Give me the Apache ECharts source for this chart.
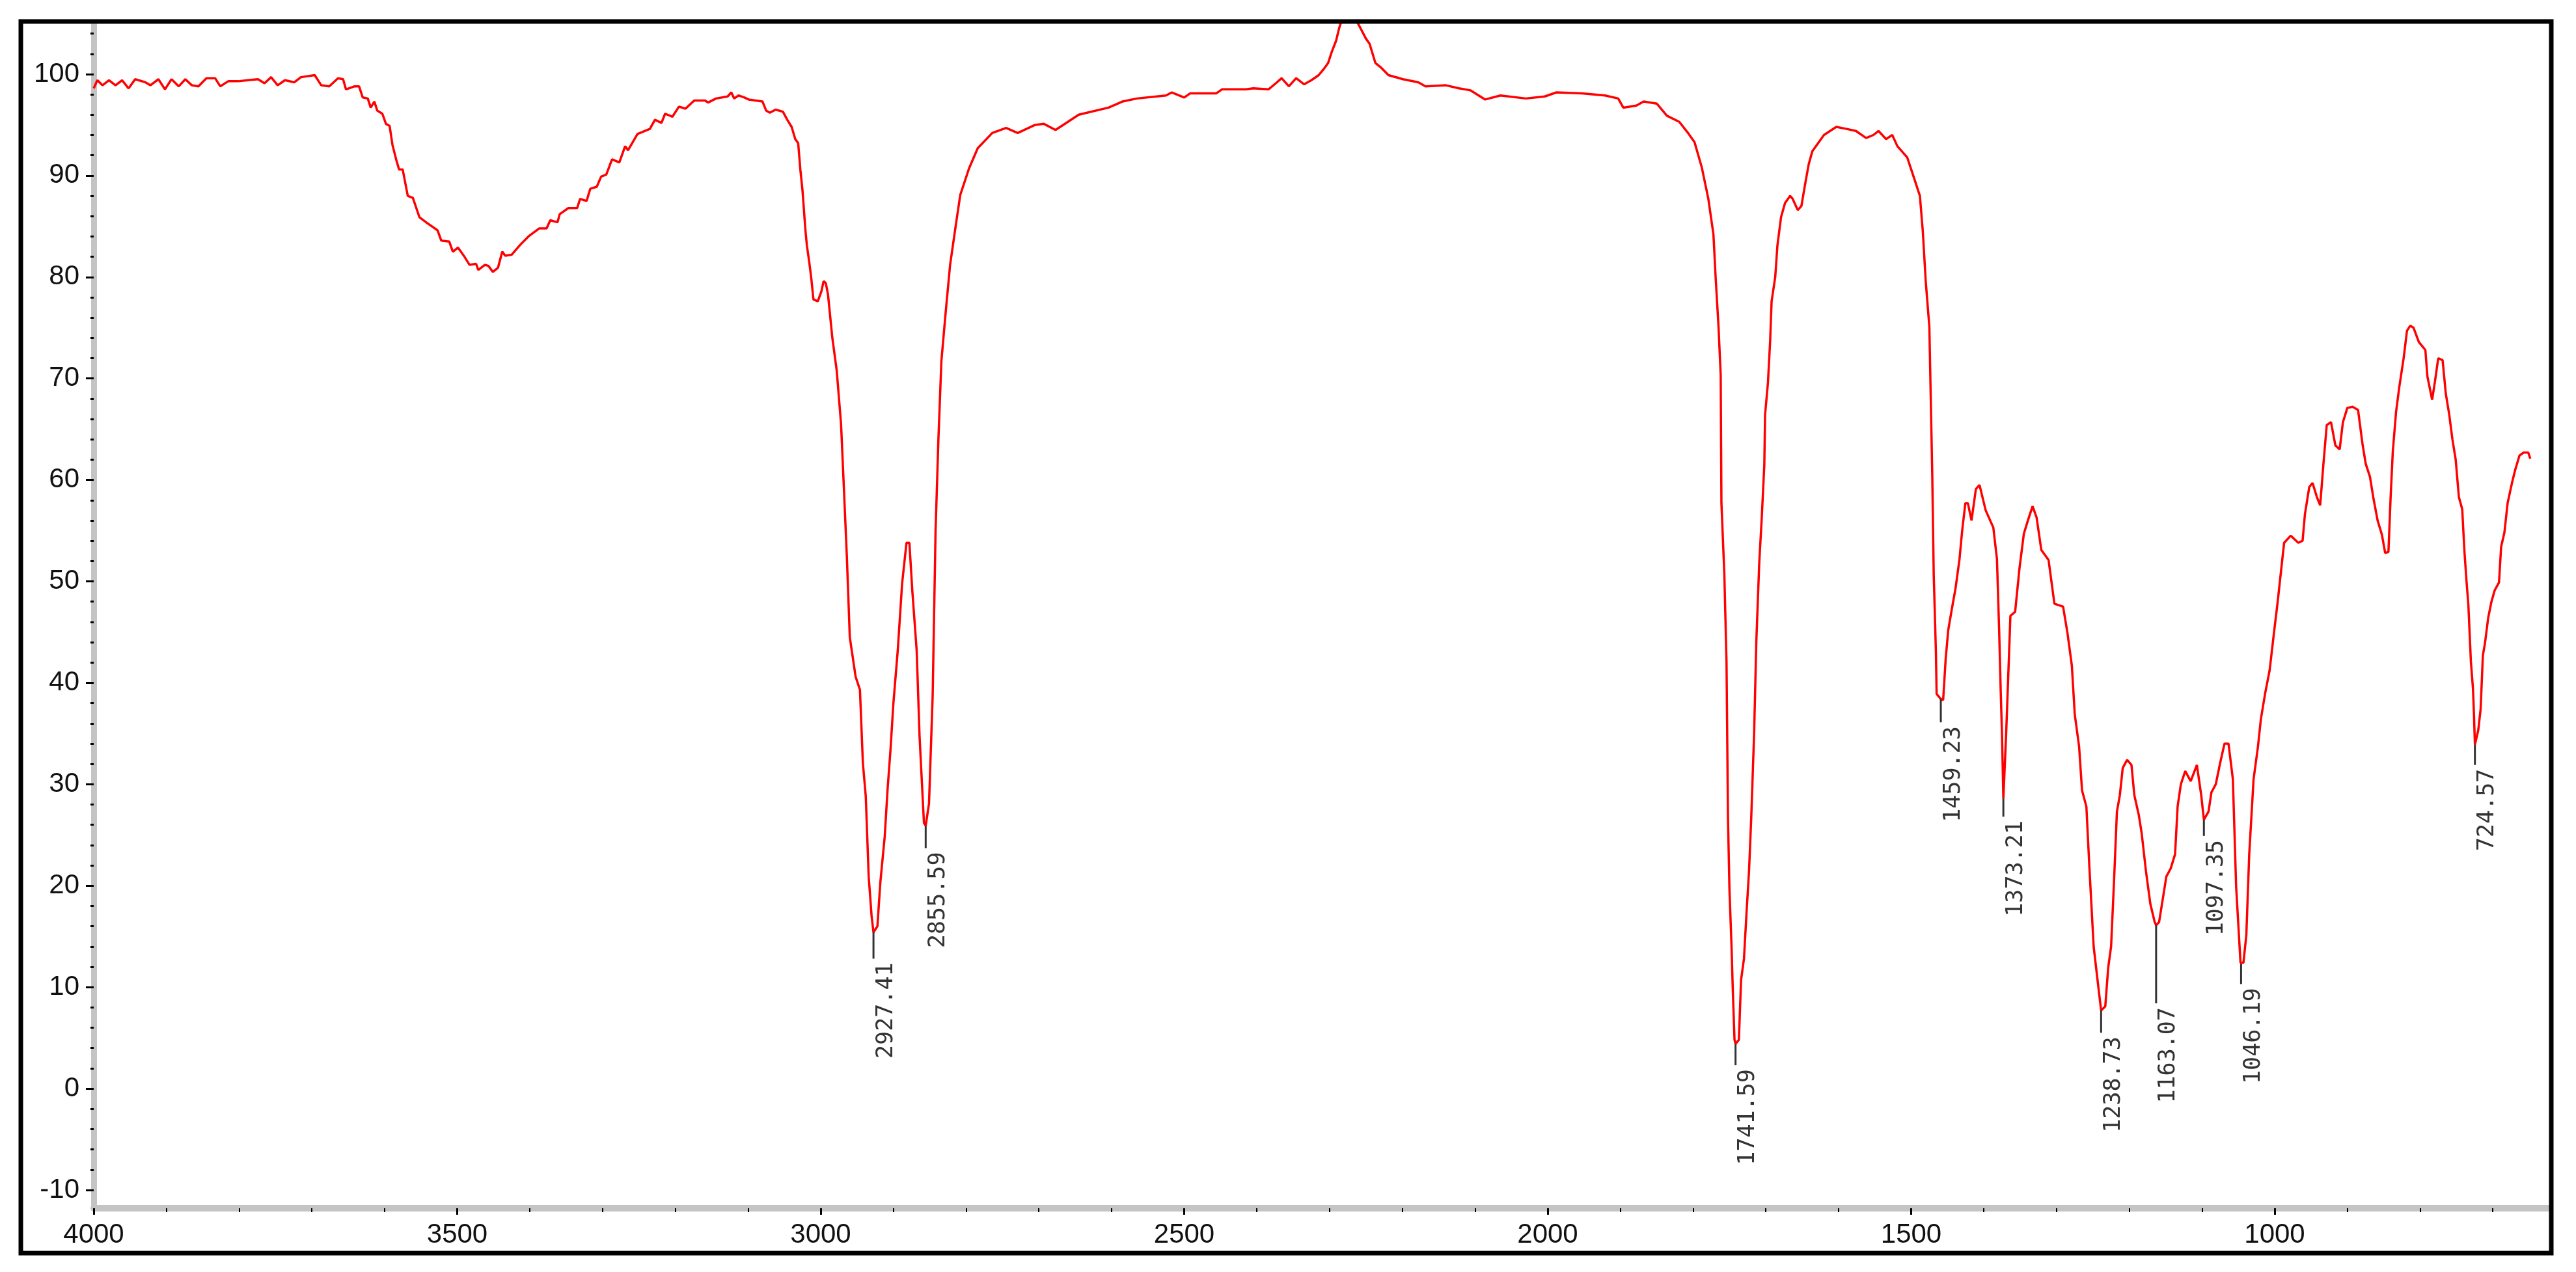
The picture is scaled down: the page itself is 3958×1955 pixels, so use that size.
<!DOCTYPE html>
<html>
<head>
<meta charset="utf-8">
<script src="https://cdn.jsdelivr.net/npm/echarts@6.0.0/dist/echarts.min.js"></script>
<style>
html,body{margin:0;padding:0;background:#fff;}
#chart{width:3958px;height:1955px;}
</style>
</head>
<body>
<div id="chart"></div>
<script>
// IR spectrum: wavenumber (cm-1) and transmittance (%)
const wavenumber = [
4000,3995,3988,3979,3970,3961,3952,3943,3929,3922,3911,3902,3893,3883,3874,3865,3856,3845,3833,3826,
3815,3801,3788,3774,3765,3756,3747,3737,3724,3715,3696,3687,3676,3664,3657,3653,3641,3635,3630,3623,
3619,3614,3610,3603,3598,3593,3589,3584,3580,3575,3568,3561,3552,3541,3527,3522,3511,3506,3499,3490,
3483,3474,3471,3462,
3457,3451,3444,3438,3434,3425,3413,3402,3387,3377,3372,3362,3359,3347,3335,3331,3322,3317,3308,3302,
3295,3287,3277,3269,3265,3252,3235,3228,3219,3214,3204,3195,3186,3174,3159,3155,3144,3128,3123,3119,
3113,3105,3099,3080,3075,3070,3062,3052,3046,3040,3035,3031,3028,3025,3021,3019,3016,3013,
3010,3004,2999,2996,2993,2990,2984,2978,2972,2968,2964,2960,2952,2946,2942,2938,2934,2930,2927.41,2922,
2918,2912,2908,2904,2900,2894,2888,2882,2878,2874,2868,2864,2858,2855.59,2851,2846,2842,2838,2834,2828,
2822,2814,2808,2796,2784,2764,2745,2729,2705,2693,2677,2645,2604,2585,2565,2525,
2517,2500,2492,2456,2448,2415,2405,2384,2374,2366,2356,2346,2335,2325,2315,2307,2302,2297,2291,2287,
2282,2276,2270,2264,2258,2250,2245,2237,2230,2219,2199,2178,2168,2140,2122,2106,2086,2065,2030,2004,
1988,1953,1921,1903,1896,1878,1868,1850,
1836,1819,1808,1798,1788,1779,1772,1769,1765,1762,1761,1757,1754,1752,1750,1747,1745.5,1743,1741.59,1737,
1734,1730,1726.5,1723,1720,1716,1713,1709,1705.5,1702,1701,1697,1694,1692,1687,1684,1679,1673.5,1666.5,1663,
1656,1651,1646,1641,1636,1620,1603,1589,1576,1562,1552,1545,1534.5,1526,1519,1505.5,1499,1488,1484,1480,
1475,1471,1469,1466,1465,1459.23,1456,1452.5,1449,1444,1439,1433.5,1430,1425.5,1422,1417,1411,1406,1397.5,1387,
1382,1379,1377,1375,1373.21,1369.5,1367,1363.5,1357,
1351,1345,1339,1333,1327.5,1321,1311,1303,1291,1285,1279,1275,1269,1265,1259,1255,1249,1243,1238.73,1233,
1229,1225,1221,1217,1213,1209,1203,1197,1193,1187,1183,1177,1171,1165,1163.07,1159,1155,1149,1143,1137,
1133.5,1129,1123,1115.5,1107,1101,1097.35,1091,1087,1081,1075,1069,1063.5,1057.5,1053,1047,1046.19,1043,1039,1035,
1029,1023,1019,1013,1007,1001,
996,987,978,967.5,961.6,958.4,952.4,947.9,941.9,937.4,932.9,928.4,922.5,916.5,910.6,906.1,900,892.8,885.3,879.3,
874.8,868.9,864.4,858.4,852.5,848,843.5,840.5,837.5,833,828.7,822.6,818,813.6,809,801.7,792.7,789.9,783.4,779.5,
775,769,764.6,760,755.5,751,746.6,742,739,736.2,733.5,730.1,727.2,725.7,724.57,720,716.7,713.6,710.7,706.3,
701.8,697.4,691.4,688.5,684,679.6,673.6,669.1,663.3,657.3,651.2,648.4
];
const transmittance = [
98.6,99.4,98.9,99.4,98.9,99.4,98.6,99.5,99.2,98.9,99.5,98.5,99.5,98.8,99.5,98.9,98.8,99.6,99.6,98.8,
99.3,99.3,99.4,99.5,99.1,99.7,98.9,99.4,99.2,99.7,99.9,98.9,98.8,99.6,99.5,98.5,98.8,98.8,97.7,97.6,
96.7,97.3,96.4,96.1,95.1,94.9,93.0,91.6,90.6,90.6,88.0,87.8,85.9,85.3,84.6,83.6,83.5,82.5,82.9,82.0,
81.2,81.3,80.7,81.2,
81.1,80.5,80.9,82.5,82.1,82.2,83.2,84.0,84.8,84.8,85.6,85.4,86.2,86.8,86.8,87.7,87.5,88.7,88.9,89.9,
90.1,91.6,91.3,92.9,92.5,94.1,94.6,95.5,95.2,96.1,95.8,96.8,96.6,97.4,97.4,97.2,97.6,97.8,98.2,97.6,
97.9,97.7,97.5,97.3,96.4,96.2,96.5,96.3,95.5,94.8,93.6,93.2,90.6,88.5,84.6,83.1,81.6,79.9,
77.8,77.6,78.6,79.6,79.4,78.3,74.0,70.8,65.5,59.0,52.4,44.5,40.6,39.3,32.1,28.8,20.9,17.0,15.4,16.0,
20.3,24.8,29.5,33.4,38.0,43.2,49.8,53.8,53.8,49.1,43.2,34.7,26.2,25.9,28.1,38.7,55.0,64.2,71.7,76.6,
81.2,85.2,88.1,90.7,92.7,94.2,94.7,94.2,95.0,95.1,94.5,96.0,96.7,97.3,97.6,97.9,
98.2,97.7,98.1,98.1,98.5,98.5,98.6,98.5,99.1,99.6,98.8,99.6,99.0,99.4,99.9,100.6,101.1,102.2,103.3,104.5,
105.6,105.2,105.8,105.4,104.6,103.5,103.0,101.1,100.7,99.9,99.5,99.2,98.8,98.9,98.6,98.4,97.5,97.9,97.6,97.8,
98.2,98.1,97.9,97.6,96.7,96.9,97.3,97.1,
95.9,95.3,94.3,93.3,90.8,87.7,84.2,80.0,75.1,70.3,57.7,50.7,42.0,26.7,19.7,13.8,10.0,4.8,4.4,4.8,
10.7,12.8,17.3,21.5,26.7,35.1,44.1,51.8,56.3,61.5,66.4,69.6,73.7,77.6,80.0,83.1,85.9,87.3,88.0,87.7,
86.6,87.0,89.1,91.1,92.4,94.0,94.8,94.6,94.4,93.7,94.0,94.4,93.6,94.0,92.9,91.8,90.4,88.0,84.5,79.6,
75.1,60.5,50.7,43.1,38.9,38.4,38.3,42.4,45.2,47.3,49.3,52.2,54.9,57.7,57.7,56.0,59.1,59.5,57.0,55.3,
52.2,45.2,39.6,34.7,28.6,34.7,39.6,46.6,47.0,
51.3,54.7,56.1,57.4,56.3,53.1,52.1,47.8,47.5,44.9,41.7,36.9,33.7,29.4,27.8,22.0,14.0,10.3,7.7,8.1,
11.9,14.0,20.4,27.3,28.9,31.6,32.4,31.9,28.9,27.0,25.2,21.4,18.2,16.4,16.1,16.4,18.2,20.9,21.7,23.1,
27.8,30.0,31.3,30.3,31.9,28.9,26.5,27.3,29.2,30.0,32.1,34.0,34.0,30.5,19.9,12.4,12.3,12.4,15.1,23.1,
30.5,33.7,36.4,39.0,41.2,44.9,
47.9,53.8,54.5,53.8,54.0,56.6,59.3,59.7,58.3,57.5,61.6,65.4,65.7,63.4,63.0,65.7,67.1,67.2,66.9,63.6,
61.6,60.3,58.3,56.0,54.6,52.8,52.9,58.3,62.8,66.7,69.1,72.0,74.7,75.2,75.0,73.6,72.8,70.2,67.9,69.7,
72.0,71.8,68.5,66.5,64.0,62.0,58.3,57.1,53.0,50.1,47.6,42.1,39.4,36.6,33.9,35.3,37.4,42.7,43.9,46.4,
48.0,49.1,49.9,53.4,54.8,57.7,59.7,61.0,62.4,62.7,62.7,62.1
];

// Peak annotations
const peakWavenumber = [2927.41, 2855.59, 1741.59, 1459.23, 1373.21, 1238.73, 1163.07, 1097.35, 1046.19, 724.57];
const peakValue      = [15.4, 25.9, 4.4, 38.4, 28.6, 7.7, 16.1, 26.5, 12.3, 33.9];
const peakLeaderEnd  = [12.8, 23.7, 2.3, 36.1, 26.8, 5.5, 8.4, 24.9, 10.3, 31.9];
const peakLabels     = ['2927.41', '2855.59', '1741.59', '1459.23', '1373.21', '1238.73', '1163.07', '1097.35', '1046.19', '724.57'];

// Axis ticks
const xMajorTicks = [4000, 3500, 3000, 2500, 2000, 1500, 1000];
const xMinorTicks = [4000,3900,3800,3700,3600,3500,3400,3300,3200,3100,3000,2900,2800,2700,2600,2500,2400,2300,2200,2100,2000,1900,1800,1700,1600,1500,1400,1300,1200,1100,1000,900,800,700];
const yMajorTicks = [-10, 0, 10, 20, 30, 40, 50, 60, 70, 80, 90, 100];
const yMinorTicks = [-10,-8,-6,-4,-2,0,2,4,6,8,10,12,14,16,18,20,22,24,26,28,30,32,34,36,38,40,42,44,46,48,50,52,54,56,58,60,62,64,66,68,70,72,74,76,78,80,82,84,86,88,90,92,94,96,98,100,102,104];

const spectrum = wavenumber.map((w, i) => [w, transmittance[i]]);
const peaks = peakWavenumber.map((w, i) => [w, peakValue[i], peakLeaderEnd[i]]);

const X_MIN = 624, X_MAX = 4000, Y_MIN = -11.8, Y_MAX = 105;
const labelFont = "'Liberation Sans Narrow', 'Liberation Sans', sans-serif";
const plain = v => String(v);

const chart = echarts.init(document.getElementById('chart'), null, {renderer: 'canvas'});
chart.setOption({
  backgroundColor: '#ffffff',
  animation: false,
  grid: {left: 144, right: 43, top: 36, bottom: 98, containLabel: false, outerBoundsMode: 'none'},
  xAxis: [{
    type: 'value', min: X_MIN, max: X_MAX, inverse: true, position: 'bottom',
    axisLine: {show: true, onZero: false, lineStyle: {color: '#c4c4c4', width: 10}},
    axisTick: {show: true, customValues: xMinorTicks, length: 6, lineStyle: {color: '#000', width: 2}},
    axisLabel: {show: true, customValues: xMajorTicks, formatter: plain, margin: 20, color: '#111', fontSize: 42, fontFamily: labelFont},
    splitLine: {show: false}
  }, {
    type: 'value', min: X_MIN, max: X_MAX, inverse: true, position: 'bottom',
    axisLine: {show: false, onZero: false},
    axisTick: {show: true, customValues: xMajorTicks, length: 10, lineStyle: {color: '#000', width: 3}},
    axisLabel: {show: false},
    splitLine: {show: false}
  }],
  yAxis: [{
    type: 'value', min: Y_MIN, max: Y_MAX, position: 'left',
    axisLine: {show: true, onZero: false, lineStyle: {color: '#c4c4c4', width: 9}},
    axisTick: {show: true, customValues: yMinorTicks, length: 5, lineStyle: {color: '#000', width: 3}},
    axisLabel: {show: true, customValues: yMajorTicks, formatter: plain, margin: 22, color: '#111', fontSize: 42, fontFamily: labelFont},
    splitLine: {show: false}
  }, {
    type: 'value', min: Y_MIN, max: Y_MAX, position: 'left',
    axisLine: {show: false, onZero: false},
    axisTick: {show: true, customValues: yMajorTicks, length: 12, lineStyle: {color: '#000', width: 3}},
    axisLabel: {show: false},
    splitLine: {show: false}
  }],
  series: [{
    type: 'line',
    data: spectrum,
    xAxisIndex: 0, yAxisIndex: 0,
    showSymbol: false,
    symbol: 'none',
    clip: true,
    lineStyle: {color: '#ff0000', width: 3.5},
    z: 3
  }, {
    type: 'custom',
    data: peaks,
    xAxisIndex: 0, yAxisIndex: 0,
    encode: {x: 0, y: [1, 2]},
    z: 4,
    renderItem: function (params, api) {
      const w = api.value(0);
      const p1 = api.coord([w, api.value(1)]);
      const p2 = api.coord([w, api.value(2)]);
      return {
        type: 'group',
        children: [{
          type: 'line',
          shape: {x1: p1[0], y1: p1[1], x2: p2[0], y2: p2[1]},
          style: {stroke: '#333', lineWidth: 3}
        }, {
          type: 'text',
          x: p2[0] + 2,
          y: p2[1] + 6,
          rotation: Math.PI / 2,
          style: {
            text: peakLabels[params.dataIndex],
            fill: '#333',
            font: "35px 'DejaVu Sans Mono', 'Liberation Mono', monospace",
            align: 'right',
            verticalAlign: 'top'
          }
        }]
      };
    }
  }],
  graphic: [{
    type: 'rect',
    z: 100,
    silent: true,
    shape: {x: 32, y: 33, width: 3888, height: 1893},
    style: {fill: null, stroke: '#000', lineWidth: 7}
  }]
});
</script>
</body>
</html>
